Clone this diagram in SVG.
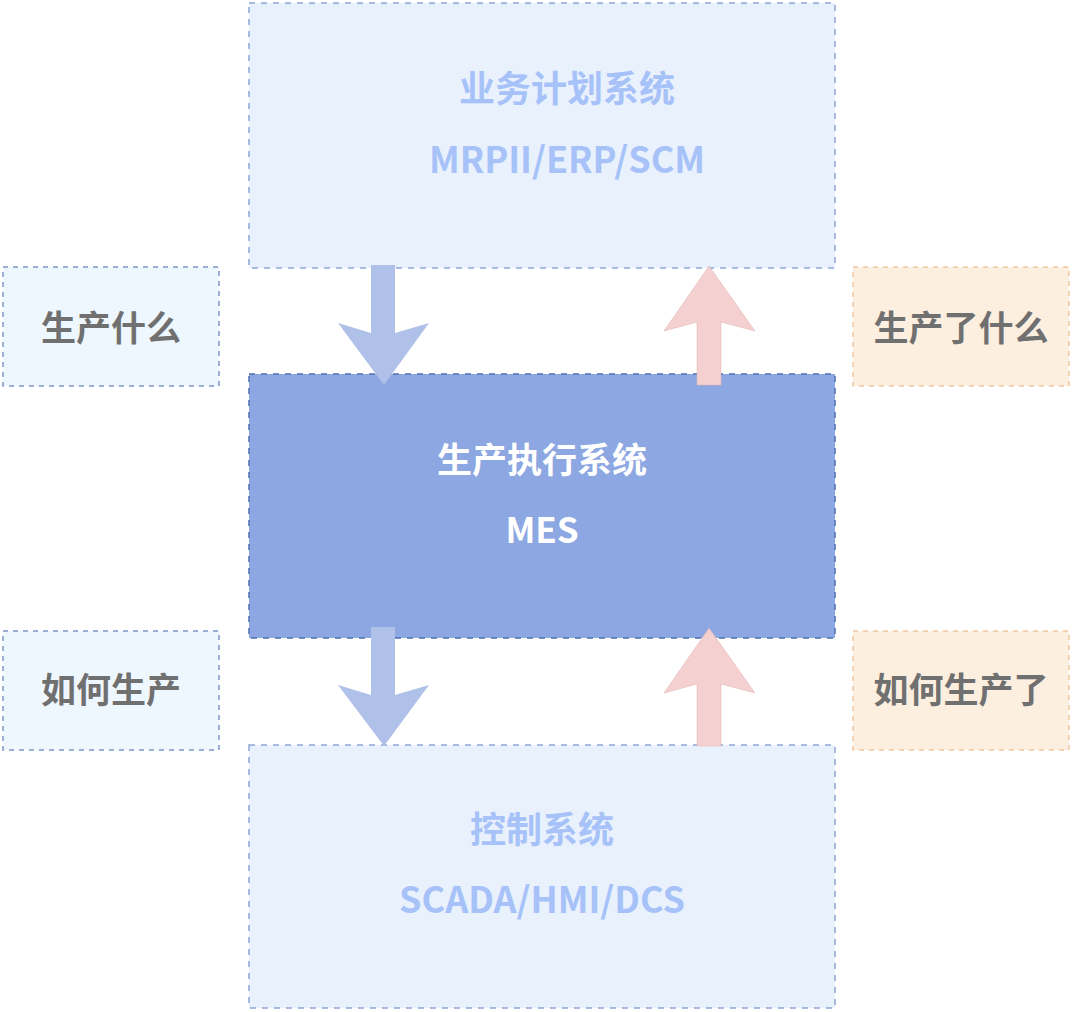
<svg xmlns="http://www.w3.org/2000/svg" width="1072" height="1012" viewBox="0 0 1072 1012">
<style>
text{font-family:"Noto Sans CJK SC","Noto Sans",sans-serif;font-weight:bold;text-anchor:middle}
.sys{fill:#e9f1fd;stroke:#8fa6d6;stroke-width:1.5;stroke-dasharray:6 6}
.lt{fill:#a6c2f8;font-size:36px}
.ql{fill:#eef7fe;stroke:#7f96c8;stroke-width:1.5;stroke-dasharray:5 5}
.qr{fill:#fdefe0;stroke:#f0c8a0;stroke-width:1.5;stroke-dasharray:5 5}
.qt{fill:#707070;font-size:35px}
</style>
<g id="erp"><rect class="sys" x="249" y="3" width="586" height="265"/><text class="lt" x="567" y="102">业务计划系统</text><text class="lt" x="567" y="173">MRPII/ERP/SCM</text></g>
<g id="mes"><rect x="249" y="374" width="586" height="264" fill="#8ca7e1" stroke="#4f6fb0" stroke-width="1.5" stroke-dasharray="6 6"/><text x="542" y="473" fill="#fff" font-size="35">生产执行系统</text><text x="542" y="543" fill="#fff" font-size="35">MES</text></g>
<g id="ctl"><rect class="sys" x="249" y="745" width="586" height="263"/><text class="lt" x="542" y="843">控制系统</text><text class="lt" x="542" y="913">SCADA/HMI/DCS</text></g>
<g id="q1"><rect class="ql" x="3" y="267" width="216" height="119"/><text class="qt" x="111" y="341">生产什么</text></g>
<g id="q2"><rect class="qr" x="853" y="267" width="216" height="119"/><text class="qt" x="961" y="341">生产了什么</text></g>
<g id="q3"><rect class="ql" x="3" y="631" width="216" height="119"/><text class="qt" x="111" y="703">如何生产</text></g>
<g id="q4"><rect class="qr" x="853" y="631" width="216" height="119"/><text class="qt" x="961" y="703">如何生产了</text></g>
<g id="connectors">
<polygon points="371,265 395,265 395,333 429,323 384,385 338,323 371,333" fill="#afc1e8"/>
<polygon points="697,385 721,385 721,322 755,331 709,266 664,331 697,322" fill="#f4d0d0" stroke="#e0b0b0" stroke-width="0.5"/>
<polygon points="371,627 395,627 395,695 429,685 384,746 338,685 371,695" fill="#afc1e8"/>
<polygon points="697,746 721,746 721,684 755,693 709,628 664,693 697,684" fill="#f4d0d0" stroke="#e0b0b0" stroke-width="0.5"/>
</g>
</svg>
